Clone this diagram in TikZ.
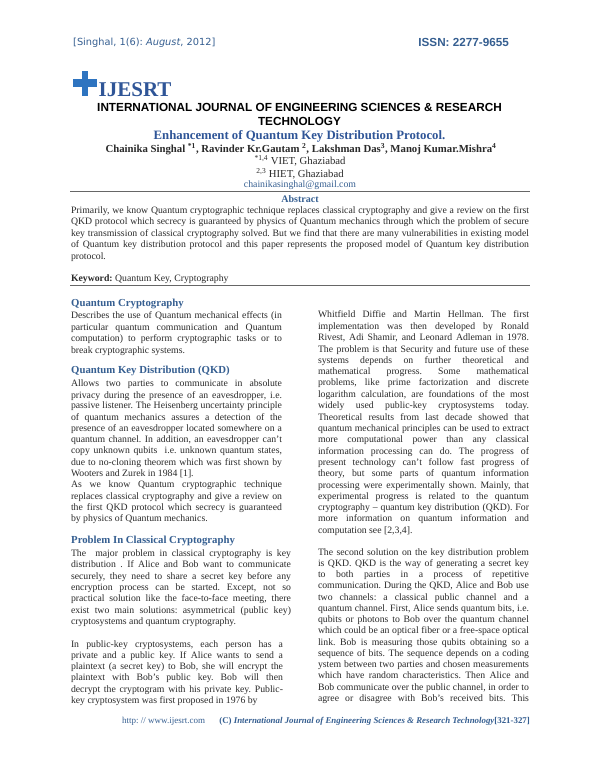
\documentclass[tikz,border=0pt]{standalone}
\usepackage{fontspec}
\setmainfont{Liberation Serif}
\newfontfamily\hdsans{Liberation Sans}
\newfontfamily\comicish{DejaVu Sans}
\definecolor{ijblue}{HTML}{2F5597}
\definecolor{ijplus}{HTML}{2E74C0}
\definecolor{ijhead}{HTML}{365F91}
\definecolor{bodyk}{HTML}{2A2A2A}
\newcount\linecnt
\frenchspacing
\tikzset{
  txt/.style={inner sep=0pt,outer sep=0pt,text=bodyk,font=\fontsize{9.75}{11}\selectfont},
  head/.style={inner sep=0pt,anchor=west,text=ijhead,font=\fontsize{10.75}{12}\selectfont\bfseries},
  rulerline/.style={draw=black!60,line width=0.8pt}
}
% justified line: x-left, width, y-centre, text
\newcommand{\jline}[4]{\global\advance\linecnt by 1
  \node[txt,anchor=base west] (L\the\linecnt) at (#1,#3+3.1) {\hbox to #2pt{\spaceskip=.25em plus 1fil minus .14em\relax #4}};}
% ragged last line
\newcommand{\rline}[3]{\global\advance\linecnt by 1
  \node[txt,anchor=base west] (L\the\linecnt) at (#1,#2+3.1) {\spaceskip=.25em plus .1em minus .1em\relax #3};}
\begin{document}
\begin{tikzpicture}[x=1pt,y=-1pt]
\path[use as bounding box,fill=white] (0,0) rectangle (600,776);
% header
\node[inner sep=0pt,anchor=west,text=ijhead,font=\comicish\fontsize{9.8}{11}\selectfont] (hleft) at (73,43) {[Singhal, 1(6): \textit{August}, 2012]};
\node[inner sep=0pt,anchor=east,text=ijhead,font=\hdsans\bfseries\fontsize{11.7}{13}\selectfont] (hright) at (509,42.5) {ISSN: 2277-9655};
% logo
\fill[ijplus] (81.7,70.7) rectangle (88.3,95.5);
\fill[ijplus] (72.7,79.3) rectangle (97.3,86.7);
\node[inner sep=0pt,anchor=base west,text=ijblue,font=\fontsize{21}{22}\selectfont\bfseries] (logo) at (98.5,96) {IJESRT};
\node[inner sep=0pt,text=black,font=\hdsans\bfseries\fontsize{11.75}{13}\selectfont] (j1) at (299.5,107.3) {INTERNATIONAL JOURNAL OF ENGINEERING SCIENCES \& RESEARCH};
\node[inner sep=0pt,text=black,font=\hdsans\bfseries\fontsize{11.75}{13}\selectfont] (j2) at (299.5,121) {TECHNOLOGY};
\node[inner sep=0pt,text=ijblue,font=\fontsize{12.75}{15}\selectfont\bfseries] (title) at (299.5,136) {Enhancement of Quantum Key Distribution Protocol.};
\node[inner sep=0pt,text=bodyk,font=\fontsize{10.75}{12}\selectfont\bfseries] (auth) at (301,149) {Chainika Singhal \textsuperscript{*1}, Ravinder Kr.Gautam \textsuperscript{2}, Lakshman Das\textsuperscript{3}, Manoj Kumar.Mishra\textsuperscript{4}};
\node[inner sep=0pt,text=bodyk,font=\fontsize{10.7}{12}\selectfont] (a1) at (300,161) {\textsuperscript{*1,4} VIET, Ghaziabad};
\node[inner sep=0pt,text=bodyk,font=\fontsize{10.7}{12}\selectfont] (a2) at (300,174) {\textsuperscript{2,3} HIET, Ghaziabad};
\node[inner sep=0pt,text=ijhead,font=\fontsize{9.8}{11}\selectfont] (mail) at (300,185) {chainikasinghal@gmail.com};
\coordinate (r1a) at (70,191.5); \coordinate (r1b) at (530,191.5);
\draw[rulerline] (r1a) -- (r1b);
\node[inner sep=0pt,text=ijhead,font=\fontsize{10}{12}\selectfont\bfseries] (abs) at (300,199.5) {Abstract};
% abstract
\jline{71}{458}{210}{Primarily, we know Quantum cryptographic technique replaces classical cryptography and give a review on the first}
\jline{71}{458}{221.5}{QKD protocol which secrecy is guaranteed by physics of Quantum mechanics through which the problem of secure}
\jline{71}{458}{233}{key transmission of classical cryptography solved. But we find that there are many vulnerabilities in existing model}
\jline{71}{458}{244.5}{of Quantum key distribution protocol and this paper represents the proposed model of Quantum key distribution}
\rline{71}{256}{protocol.}
\node[txt,anchor=base west] (kw) at (71,281) {\textbf{Keyword:} Quantum Key, Cryptography};
\coordinate (r2a) at (70,285.5); \coordinate (r2b) at (530,285.5);
\draw[rulerline] (r2a) -- (r2b);
% left column
\node[head] (h1) at (71,304) {Quantum Cryptography};
\jline{71}{211}{315.5}{Describes the use of Quantum mechanical effects (in}
\jline{71}{211}{327}{particular quantum communication and Quantum}
\jline{71}{211}{338.5}{computation) to perform cryptographic tasks or to}
\rline{71}{350}{break cryptographic systems.}
\node[head] (h2) at (71,371) {Quantum Key Distribution (QKD)};
\jline{71}{211}{383}{Allows two parties to communicate in absolute}
\jline{71}{211}{395}{privacy during the presence of an eavesdropper, i.e.}
\jline{71}{211}{405.7}{passive listener. The Heisenberg uncertainty principle}
\jline{71}{211}{417}{of quantum mechanics assures a detection of the}
\jline{71}{211}{428}{presence of an eavesdropper located somewhere on a}
\jline{71}{211}{439.7}{quantum channel. In addition, an eavesdropper can't}
\jline{71}{211}{450.7}{copy unknown qubits\ \ i.e. unknown quantum states,}
\jline{71}{211}{462.3}{due to no-cloning theorem which was first shown by}
\rline{71}{473}{Wooters and Zurek in 1984 [1].}
\jline{71}{211}{484.7}{As we know Quantum cryptographic technique}
\jline{71}{211}{496}{replaces classical cryptography and give a review on}
\jline{71}{211}{507.3}{the first QKD protocol which secrecy is guaranteed}
\rline{71}{518}{by physics of Quantum mechanics.}
\node[head] (h3) at (71,541) {Problem In Classical Cryptography};
\jline{71}{220}{553.5}{The\ \ major problem in classical cryptography is key}
\jline{71}{220}{564.5}{distribution . If Alice and Bob want to communicate}
\jline{71}{220}{576}{securely, they need to share a secret key before any}
\jline{71}{220}{587}{encryption process can be started. Except, not so}
\jline{71}{220}{598.5}{practical solution like the face-to-face meeting, there}
\jline{71}{220}{610}{exist two main solutions: asymmetrical (public key)}
\rline{71}{621}{cryptosystems and quantum cryptography.}
\jline{71}{212}{644}{In public-key cryptosystems, each person has a}
\jline{71}{212}{655}{private and a public key. If Alice wants to send a}
\jline{71}{212}{666.5}{plaintext (a secret key) to Bob, she will encrypt the}
\jline{71}{212}{677}{plaintext with Bob's public key. Bob will then}
\jline{71}{212}{689}{decrypt the cryptogram with his private key. Public-}
\rline{71}{700}{key cryptosystem was first proposed in 1976 by}
% right column
\jline{318}{211}{314.5}{Whitfield Diffie and Martin Hellman. The first}
\jline{318}{211}{326}{implementation was then developed by Ronald}
\jline{318}{211}{337}{Rivest, Adi Shamir, and Leonard Adleman in 1978.}
\jline{318}{211}{349}{The problem is that Security and future use of these}
\jline{318}{211}{360}{systems depends on further theoretical and}
\jline{318}{211}{371.5}{mathematical progress. Some mathematical}
\jline{318}{211}{382.5}{problems, like prime factorization and discrete}
\jline{318}{211}{394}{logarithm calculation, are foundations of the most}
\jline{318}{211}{405}{widely used public-key cryptosystems today.}
\jline{318}{211}{417}{Theoretical results from last decade showed that}
\jline{318}{211}{428}{quantum mechanical principles can be used to extract}
\jline{318}{211}{439.5}{more computational power than any classical}
\jline{318}{211}{451}{information processing can do. The progress of}
\jline{318}{211}{462}{present technology can't follow fast progress of}
\jline{318}{211}{473}{theory, but some parts of quantum information}
\jline{318}{211}{485}{processing were experimentally shown. Mainly, that}
\jline{318}{211}{496}{experimental progress is related to the quantum}
\jline{318}{211}{507.5}{cryptography -- quantum key distribution (QKD). For}
\jline{318}{211}{518.5}{more information on quantum information and}
\rline{318}{530}{computation see [2,3,4].}
\jline{318}{211}{552}{The second solution on the key distribution problem}
\jline{318}{211}{563}{is QKD. QKD is the way of generating a secret key}
\jline{318}{211}{574.5}{to both parties in a process of repetitive}
\jline{318}{211}{585}{communication. During the QKD, Alice and Bob use}
\jline{318}{211}{597}{two channels: a classical public channel and a}
\jline{318}{211}{608}{quantum channel. First, Alice sends quantum bits, i.e.}
\jline{318}{211}{619.5}{qubits or photons to Bob over the quantum channel}
\jline{318}{211}{630}{which could be an optical fiber or a free-space optical}
\jline{318}{211}{642}{link. Bob is measuring those qubits obtaining so a}
\jline{318}{211}{653}{sequence of bits. The sequence depends on a coding}
\jline{318}{211}{664.5}{ystem between two parties and chosen measurements}
\jline{318}{211}{675}{which have random characteristics. Then Alice and}
\jline{318}{211}{687}{Bob communicate over the public channel, in order to}
\jline{318}{211}{698}{agree or disagree with Bob's received bits. This}
% footer
\node[inner sep=0pt,anchor=west,text=ijhead,font=\fontsize{9}{11}\selectfont] (f1) at (122,721) {http: // www.ijesrt.com};
\node[inner sep=0pt,anchor=east,text=ijhead,font=\fontsize{8.85}{11}\selectfont\bfseries] (f2) at (530,721) {(C) \textit{International Journal of Engineering Sciences \& Research Technology}[321-327]};
\end{tikzpicture}
\end{document}
